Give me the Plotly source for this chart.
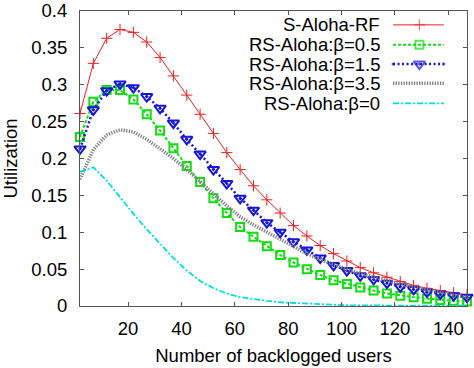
import plotly.graph_objects as go

# ---------------- data ----------------
users = [2, 7, 12, 17, 22, 27, 32, 37, 42, 47, 52, 57, 62, 67, 72, 77, 82, 87, 92, 97,
         102, 107, 112, 117, 122, 127, 132, 137, 142, 147]

s_aloha_rf = [0.261, 0.329, 0.363, 0.375, 0.371, 0.358, 0.337, 0.312, 0.286, 0.260,
              0.234, 0.208, 0.185, 0.163, 0.144, 0.126, 0.109, 0.095, 0.082, 0.071,
              0.061, 0.052, 0.045, 0.039, 0.033, 0.028, 0.024, 0.021, 0.018, 0.015]

rs_b05 = [0.229, 0.277, 0.293, 0.293, 0.280, 0.260, 0.238, 0.214, 0.190, 0.168,
          0.146, 0.126, 0.107, 0.094, 0.081, 0.069, 0.059, 0.050, 0.042, 0.035,
          0.030, 0.025, 0.021, 0.017, 0.014, 0.012, 0.010, 0.008, 0.007, 0.006]

rs_b15 = [0.213, 0.266, 0.292, 0.301, 0.296, 0.284, 0.268, 0.248, 0.226, 0.206,
          0.185, 0.166, 0.146, 0.130, 0.113, 0.100, 0.087, 0.076, 0.065, 0.055,
          0.048, 0.041, 0.036, 0.031, 0.026, 0.0225, 0.019, 0.016, 0.014, 0.012]

rs_b35 = [0.172, 0.212, 0.232, 0.239, 0.236, 0.226, 0.213, 0.200, 0.185, 0.168,
          0.152, 0.136, 0.121, 0.110, 0.100, 0.090, 0.080, 0.071, 0.063, 0.056,
          0.050, 0.044, 0.039, 0.034, 0.030, 0.026, 0.022, 0.018, 0.015, 0.012]

rs_b0 = [0.182, 0.188, 0.170, 0.147, 0.125, 0.104, 0.084, 0.065, 0.048, 0.034,
         0.024, 0.017, 0.012, 0.009, 0.007, 0.005, 0.004, 0.003, 0.002, 0.0015,
         0.001, 0.0008, 0.0006, 0.0005, 0.0004, 0.0003, 0.0003, 0.0002, 0.0002, 0.0002]

series_names = ["S-Aloha-RF", "RS-Aloha:β=0.5", "RS-Aloha:β=1.5",
                "RS-Aloha:β=3.5", "RS-Aloha:β=0"]

x_ticks = [20, 40, 60, 80, 100, 120, 140]
y_ticks = [0, 0.05, 0.1, 0.15, 0.2, 0.25, 0.3, 0.35, 0.4]
y_tick_text = ["0", "0.05", "0.1", "0.15", "0.2", "0.25", "0.3", "0.35", "0.4"]

# ---------------- styles ----------------
FONT = "Liberation Sans, Arial, Helvetica, sans-serif"
FS = 18.5
AXC = "#555555"

styles = [
    dict(line=dict(color="#ee2020", width=1, dash="solid"),
         marker=dict(symbol="cross-thin", size=8, line=dict(color="#ee2020", width=1)),
         mode="lines+markers"),
    dict(line=dict(color="#11dd11", width=2, dash="3px,2px"),
         marker=dict(symbol="square-open", size=8, color="#11dd11",
                     line=dict(color="#11dd11", width=2)),
         mode="lines+markers"),
    dict(line=dict(color="#1515d8", width=2.5, dash="2px,2.5px"),
         marker=dict(symbol="triangle-down-open-dot", size=10, color="#1515d8",
                     line=dict(color="#1515d8", width=2)),
         mode="lines+markers"),
    dict(line=dict(color="#808080", width=3.5, dash="1.3px,1.3px"),
         marker=None, mode="lines"),
    dict(line=dict(color="#00dddd", width=1.8, dash="6px,2px,2px,2px"),
         marker=None, mode="lines"),
]

series = [s_aloha_rf, rs_b05, rs_b15, rs_b35, rs_b0]

fig = go.Figure()
for name, ys, st in zip(series_names, series, styles):
    kw = dict(x=users, y=ys, name=name, mode=st["mode"], line=st["line"],
              showlegend=False, cliponaxis=False)
    if st["marker"] is not None:
        kw["marker"] = st["marker"]
    fig.add_trace(go.Scatter(**kw))

# ---------------- custom legend (text right, sample on the right) ----------------
leg_text_x = 0.781
leg_x0, leg_xm, leg_x1 = 0.809, 0.877, 0.940
leg_rows = [0.953, 0.886, 0.820, 0.755, 0.687]
for name, st, ry in zip(series_names, styles, leg_rows):
    kw = dict(x=[leg_x0, leg_xm, leg_x1], y=[ry, ry, ry], xaxis="x2", yaxis="y2",
              mode=st["mode"], line=st["line"], showlegend=False, hoverinfo="skip")
    if st["marker"] is not None:
        m = dict(st["marker"])
        m["size"] = [0, m["size"], 0]
        kw["marker"] = m
    fig.add_trace(go.Scatter(**kw))
    fig.add_annotation(text=name, x=leg_text_x, y=ry, xref="paper", yref="paper",
                       xanchor="right", yanchor="middle", showarrow=False,
                       font=dict(family=FONT, size=FS, color="black"))

axis_common = dict(showline=True, linecolor=AXC, linewidth=1, mirror="ticks",
                   ticks="inside", ticklen=4, tickcolor=AXC, tickwidth=1,
                   showgrid=False, zeroline=False, automargin=False,
                   ticklabeloverflow="allow",
                   tickfont=dict(family=FONT, size=FS, color="black"))

fig.update_layout(
    width=474, height=368,
    margin=dict(l=80, r=7, t=11, b=62),
    paper_bgcolor="white", plot_bgcolor="white",
    font=dict(family=FONT, size=FS, color="black"),
    xaxis=dict(range=[2, 147], tickvals=x_ticks, ticklabelstandoff=6,
               title=dict(text="Number of backlogged users", standoff=10,
                          font=dict(family=FONT, size=FS)),
               **axis_common),
    yaxis=dict(range=[0, 0.4], tickvals=y_ticks, ticktext=y_tick_text,
               ticklabelstandoff=8,
               title=dict(text="Utilization", standoff=21,
                          font=dict(family=FONT, size=FS)),
               **axis_common),
    xaxis2=dict(range=[0, 1], overlaying="x", visible=False, domain=[0, 1]),
    yaxis2=dict(range=[0, 1], overlaying="y", visible=False, domain=[0, 1]),
)

fig.write_html("out.html",
               config={"displayModeBar": False, "staticPlot": True},
               post_script="document.body.style.margin='0';document.body.style.padding='0';")
